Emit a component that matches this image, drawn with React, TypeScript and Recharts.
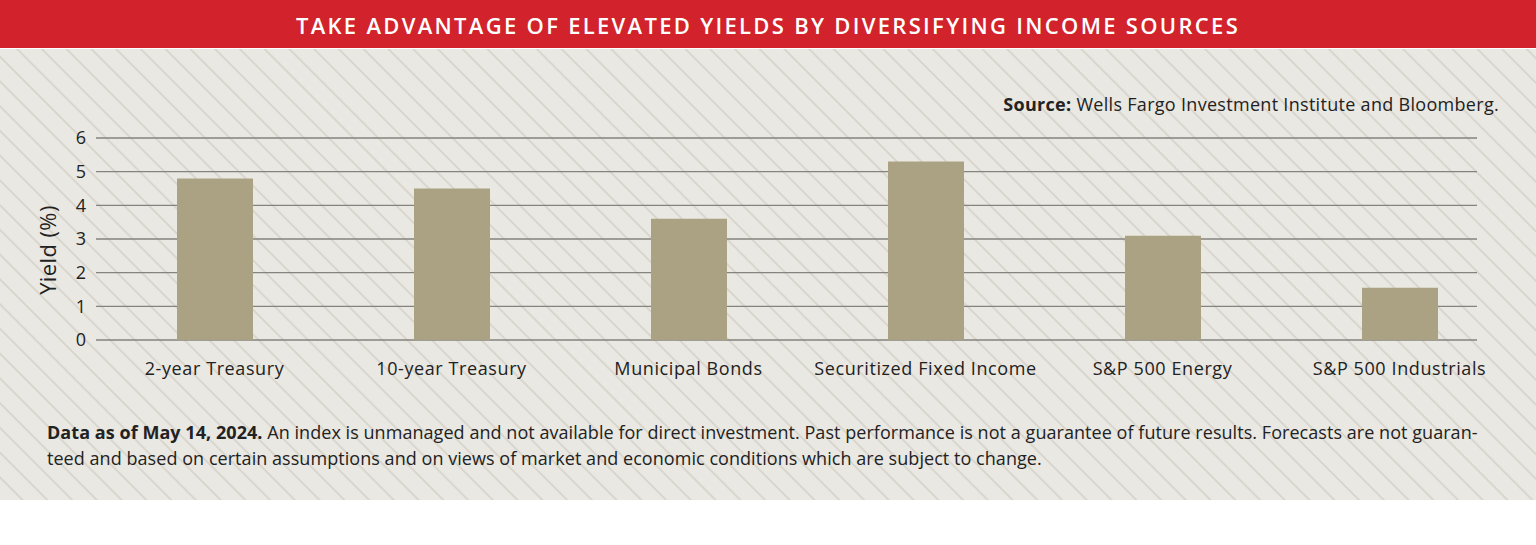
import React from 'react';
import { BarChart, Bar, XAxis, YAxis, CartesianGrid } from 'recharts';

// categories and yields (%)
const categories = [
  '2-year Treasury',
  '10-year Treasury',
  'Municipal Bonds',
  'Securitized Fixed Income',
  'S&P 500 Energy',
  'S&P 500 Industrials',
];
const yields = [4.8, 4.5, 3.6, 5.3, 3.1, 1.55];
const yTicks = [0, 1, 2, 3, 4, 5, 6];

const FONT = '"Open Sans", "DejaVu Sans", sans-serif';
const TEXT = '#222222';

const chartData = categories.map((name, i) => ({ name, value: yields[i] }));

// rotated y axis title, a little below the plot's middle like the original
const YTitle = (props: any) => {
  const { x, y, height } = props.viewBox;
  const cx = x + 27;
  const cy = y + height / 2 + 11;
  return (
    <text
      x={cx}
      y={cy}
      transform={`rotate(-90 ${cx} ${cy})`}
      textAnchor="middle"
      dominantBaseline="central"
      fill={TEXT}
      fontSize={22}
      letterSpacing={0.4}
      fontFamily={FONT}
    >
      Yield (%)
    </text>
  );
};

const App: React.FC = () => {
  return (
    <div
      style={{
        position: 'absolute',
        left: 0,
        top: 0,
        width: 1536,
        height: 545,
        background: '#ffffff',
        fontFamily: FONT,
        overflow: 'hidden',
      }}
    >
      {/* red title bar */}
      <div
        style={{
          height: 48,
          background: '#d2222b',
          color: '#ffffff',
          fontSize: 22,
          fontWeight: 600,
          letterSpacing: 2.3,
          textAlign: 'center',
          lineHeight: '50px',
          whiteSpace: 'nowrap',
        }}
      >
        TAKE ADVANTAGE OF ELEVATED YIELDS BY DIVERSIFYING INCOME SOURCES
      </div>

      {/* striped panel */}
      <div
        style={{
          position: 'absolute',
          top: 49,
          left: 0,
          width: 1536,
          height: 451,
          background:
            'repeating-linear-gradient(45deg, #eae8e2 0px, #eae8e2 14.5px, #d9d6ce 15.5px, #d9d6ce 16.5px, #eae8e2 17.5px)',
        }}
      >
        <div
          style={{
            position: 'absolute',
            right: 37,
            top: 43,
            fontSize: 18,
            letterSpacing: 0.3,
            color: TEXT,
            whiteSpace: 'nowrap',
          }}
        >
          <b>Source:</b> Wells Fargo Investment Institute and Bloomberg.
        </div>

        <BarChart
          width={1536}
          height={351}
          data={chartData}
          margin={{ top: 89, right: 59, left: 20, bottom: 20 }}
          style={{ position: 'absolute', top: 0, left: 0 }}
        >
          <CartesianGrid vertical={false} stroke="#85837d" strokeWidth={1.4} />
          <XAxis
            dataKey="name"
            height={40}
            axisLine={false}
            tickLine={false}
            tickMargin={16}
            interval={0}
            padding={{ left: 0, right: -41 }}
            tick={{ fill: TEXT, fontSize: 18, fontFamily: FONT, letterSpacing: 0.6 }}
          />
          <YAxis
            width={76}
            domain={[0, 6]}
            ticks={yTicks}
            axisLine={false}
            tickLine={false}
            tickMargin={4}
            tick={{ fill: TEXT, fontSize: 18, fontFamily: FONT }}
            label={{ content: YTitle }}
          />
          <Bar dataKey="value" fill="#aba183" barSize={76} isAnimationActive={false} />
        </BarChart>

        <div
          style={{
            position: 'absolute',
            left: 47,
            top: 370,
            fontSize: 18,
            letterSpacing: 0.05,
            lineHeight: '26px',
            color: TEXT,
          }}
        >
          <div style={{ whiteSpace: 'nowrap' }}>
            <b>Data as of May 14, 2024.</b> An index is unmanaged and not available for direct investment. Past
            performance is not a guarantee of future results. Forecasts are not guaran-
          </div>
          <div style={{ whiteSpace: 'nowrap' }}>
            teed and based on certain assumptions and on views of market and economic conditions which are subject to
            change.
          </div>
        </div>
      </div>
    </div>
  );
};

export default App;
